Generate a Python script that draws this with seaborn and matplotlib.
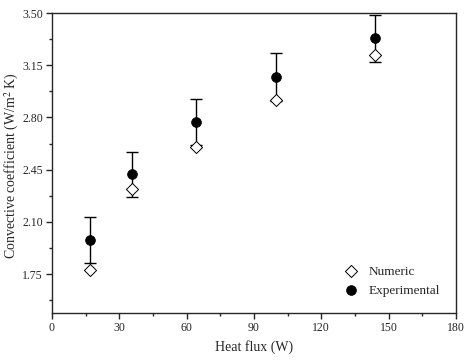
import seaborn as sns
import matplotlib.pyplot as plt
import pandas as pd
from matplotlib.ticker import MultipleLocator, FormatStrFormatter

heat_flux = [16.8, 35.8, 64.0, 100.0, 143.8]
numeric = [1.78, 2.32, 2.60, 2.92, 3.22]
experimental = [1.98, 2.42, 2.77, 3.07, 3.33]
exp_err = [0.155, 0.15, 0.155, 0.16, 0.158]

sns.set_style("ticks")
plt.rcParams["font.family"] = ["Liberation Serif", "DejaVu Serif"]
plt.rcParams["mathtext.fontset"] = "stix"

df = pd.DataFrame({"flux": heat_flux, "num": numeric, "exp": experimental, "err": exp_err})

fig = plt.figure(figsize=(4.74, 3.62), dpi=100)
ax = fig.add_axes([0.1097, 0.1354, 0.852, 0.8286])

# error bars on experimental points
ax.errorbar(df["flux"], df["exp"], yerr=df["err"], fmt="none", ecolor="black",
            elinewidth=1.0, capsize=4, capthick=1.0, zorder=2)
sns.scatterplot(x="flux", y="exp", data=df, ax=ax, marker="o", s=50, color="black",
                edgecolor="black", linewidth=0.5, label="Experimental", zorder=3)
sns.scatterplot(x="flux", y="num", data=df, ax=ax, marker="D", s=38, color="white",
                edgecolor="black", linewidth=0.7, label="Numeric", zorder=4)

ax.set_xlim(0, 180)
ax.set_ylim(1.49, 3.50)
ax.xaxis.set_major_locator(MultipleLocator(30))
ax.xaxis.set_minor_locator(MultipleLocator(15))
ax.yaxis.set_major_locator(MultipleLocator(0.35))
ax.yaxis.set_minor_locator(MultipleLocator(0.175))
ax.yaxis.set_major_formatter(FormatStrFormatter("%.2f"))
ax.tick_params(which="major", direction="out", length=4, width=1, labelsize=8.5,
               top=False, right=False, pad=2.5)
ax.tick_params(which="minor", direction="out", length=2.5, width=1, top=False, right=False)
for sp in ax.spines.values():
    sp.set_linewidth(1.0)

ax.set_xlabel("Heat flux (W)", fontsize=10)
ax.set_ylabel("Convective coefficient (W/m$^2$ K)", fontsize=10)
ax.yaxis.set_label_coords(-0.076, 0.49)

handles, labels = ax.get_legend_handles_labels()
ax.legend(handles[::-1], labels[::-1], loc="lower right", frameon=False, fontsize=9.5,
          bbox_to_anchor=(0.99, 0.015), handletextpad=0.3, labelspacing=0.5)

fig.savefig("out.png", dpi=100)
